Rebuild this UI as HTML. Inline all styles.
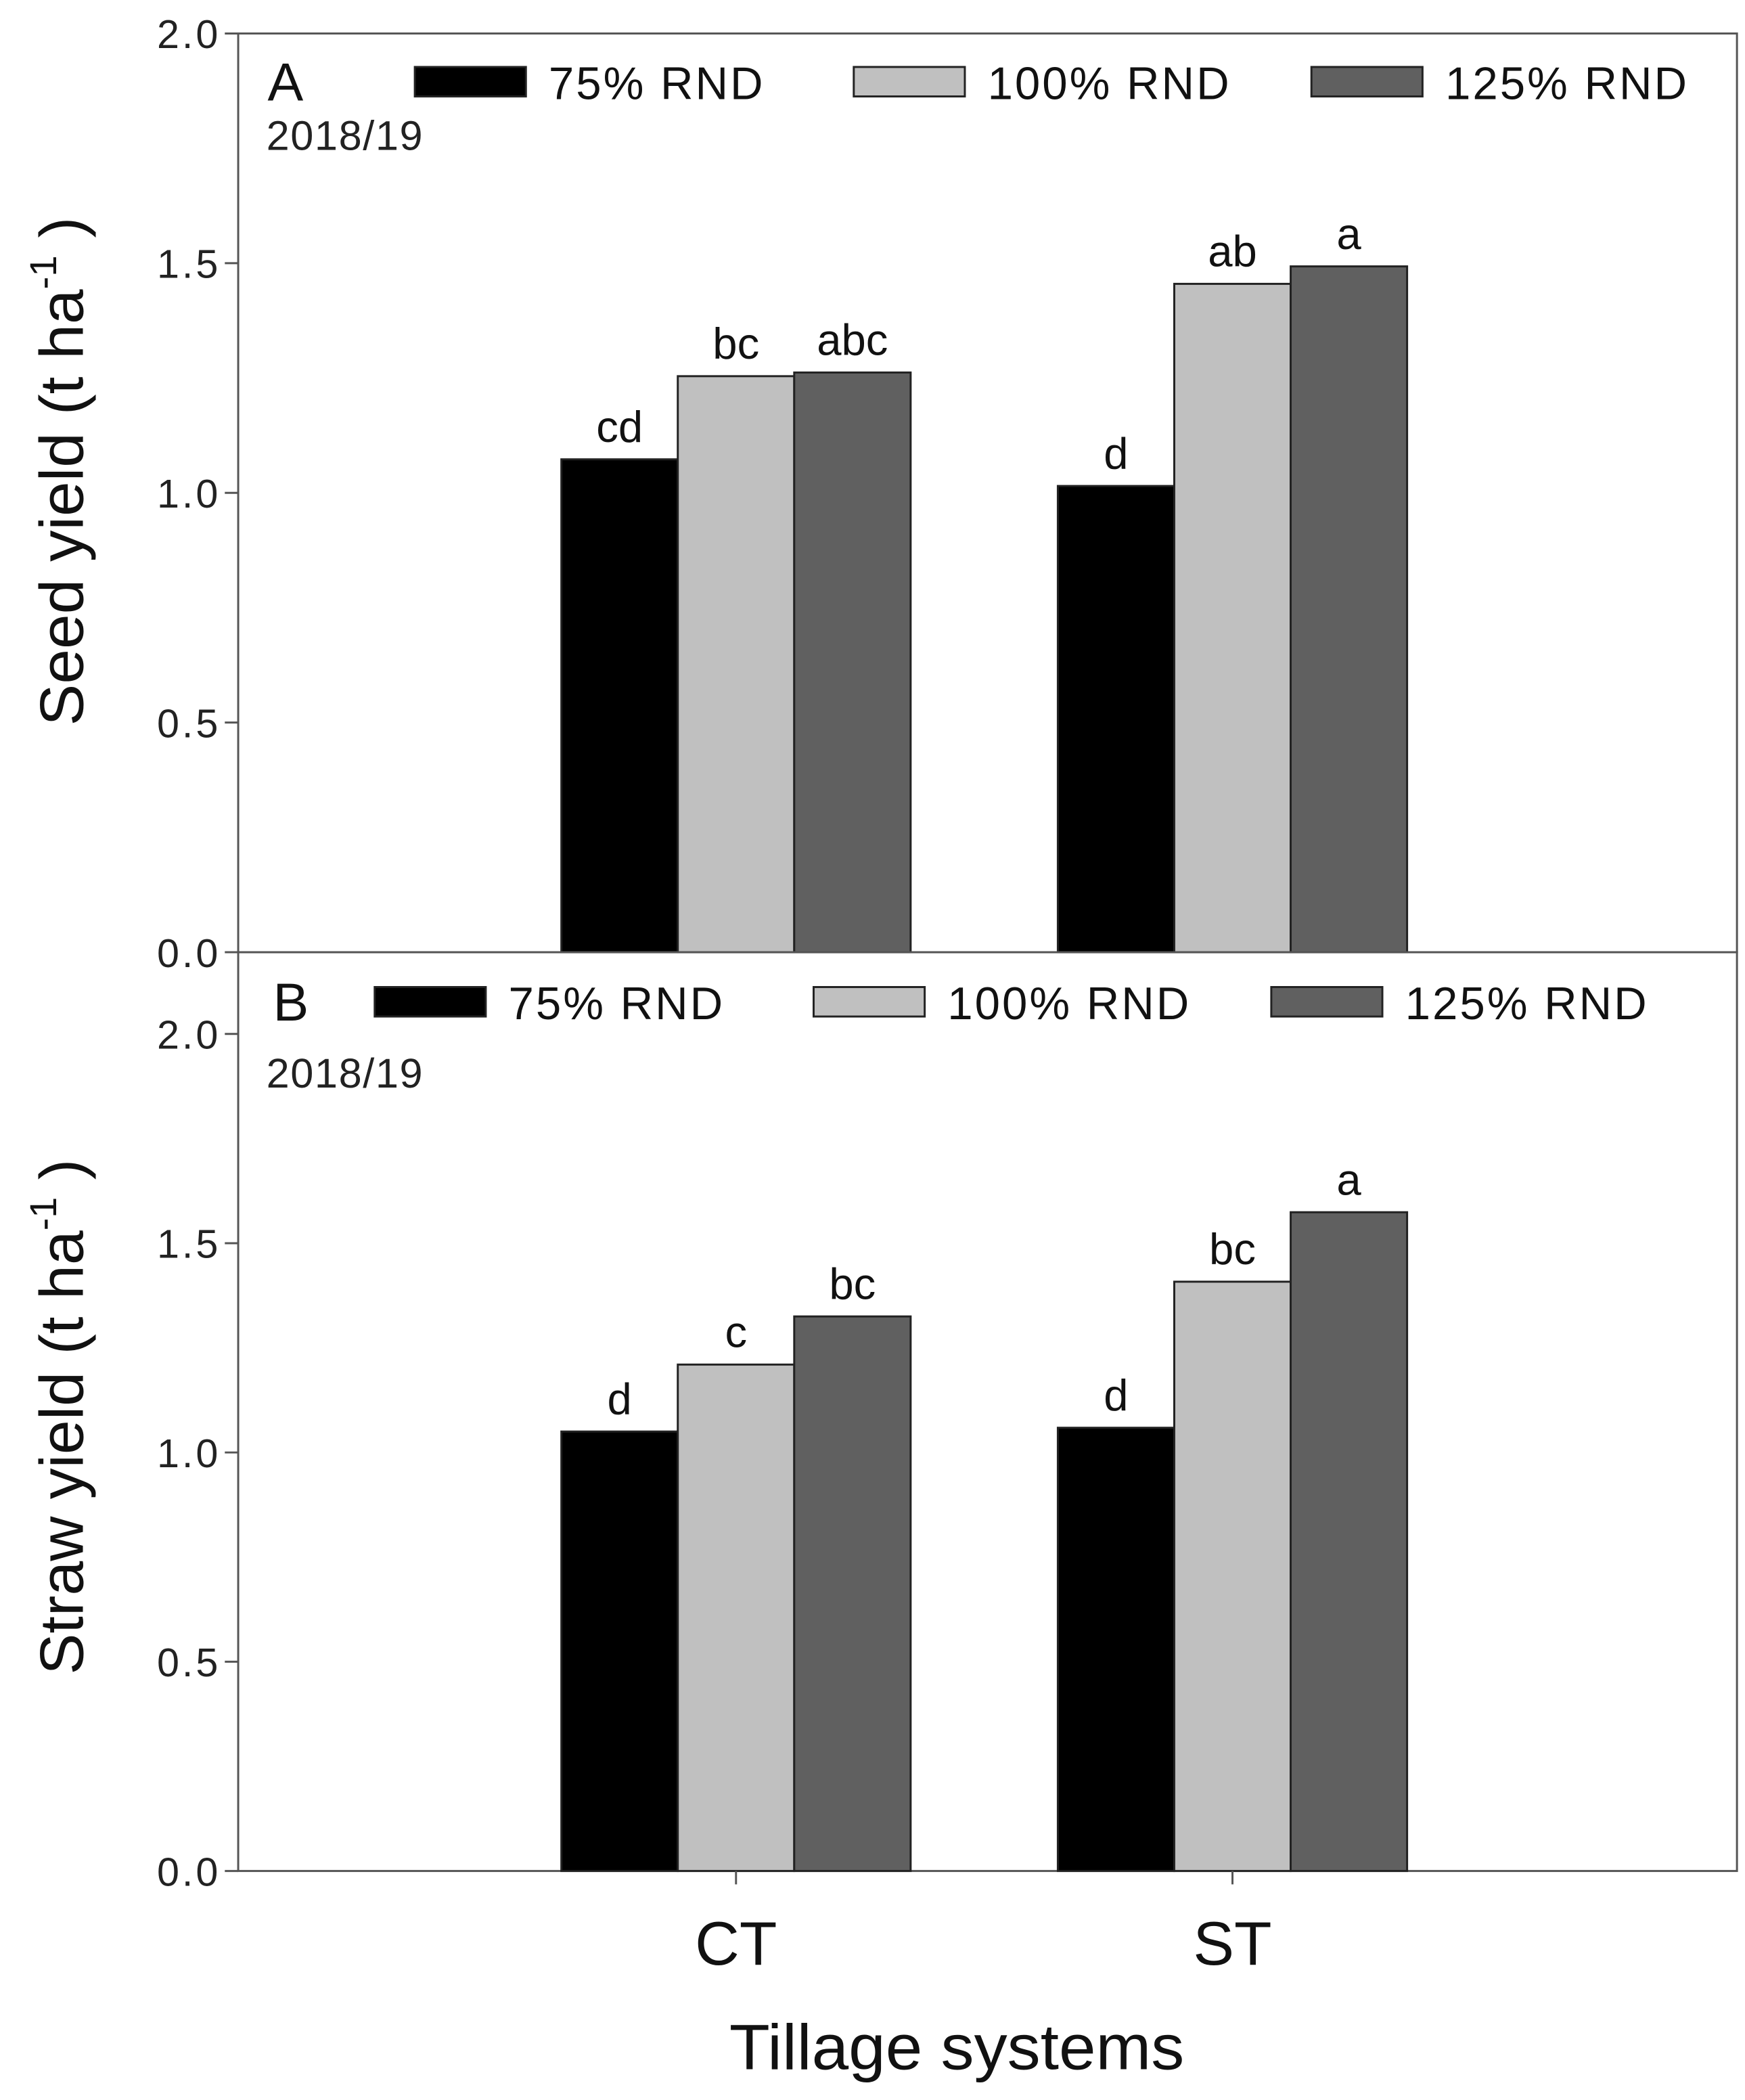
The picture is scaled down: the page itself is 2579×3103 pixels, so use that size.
<!DOCTYPE html>
<html><head><meta charset="utf-8"><style>html,body{margin:0;padding:0;background:#fff}svg{display:block}</style></head>
<body>
<svg id="chart" xmlns="http://www.w3.org/2000/svg" width="2579" height="3103" viewBox="0 0 1304 1568" preserveAspectRatio="none" font-family="'Liberation Sans', Arial, sans-serif"></svg>
<script>
const categories = ["CT", "ST"];
const seriesNames = ["75% RND", "100% RND", "125% RND"];
const seedValues = [[1.073, 1.015], [1.254, 1.455], [1.262, 1.493]];
const seedLetters = [["cd", "d"], ["bc", "ab"], ["abc", "a"]];
const strawValues = [[1.05, 1.059], [1.21, 1.408], [1.325, 1.574]];
const strawLetters = [["d", "d"], ["c", "bc"], ["bc", "a"]];
const tickLabels = ["0.0", "0.5", "1.0", "1.5", "2.0"];
const tickValues = [0, 0.5, 1.0, 1.5, 2.0];

const svg = document.getElementById('chart');
const NS = 'http://www.w3.org/2000/svg';
const colors = ['#000000', '#c0c0c0', '#606060'];
function el(tag, attrs, parent) {
  const e = document.createElementNS(NS, tag);
  for (const k in attrs) e.setAttribute(k, attrs[k]);
  (parent || svg).appendChild(e);
  return e;
}
const axL = 178, axR = 1298;
const groupCenters = [550, 921];
const barW = 87;
function xBar(ci, si) { return groupCenters[ci] - 1.5 * barW + si * barW; }

function panel(cfg) {
  const y = v => cfg.y0 - (v / 2) * (cfg.y0 - cfg.y2);
  const g = el('g', {});
  
  
  const fr = el('rect', {x: axL, y: cfg.top, width: axR - axL, height: cfg.y0 - cfg.top, fill: 'none', stroke: '#555', 'stroke-width': 1.5}, g);
  
  
  for (let si = 0; si < 3; si++) {
    for (let ci = 0; ci < 2; ci++) {
      const v = cfg.values[si][ci];
      const r = el('rect', {x: xBar(ci, si), y: y(v), width: barW, height: cfg.y0 - y(v), fill: colors[si], stroke: '#222', 'stroke-width': 1.5}, g);
      
      
      const t = el('text', {x: xBar(ci, si) + barW / 2, y: y(v) - 13, 'font-size': 33, 'text-anchor': 'middle', fill: '#111'}, g);
      t.textContent = cfg.letters[si][ci];
      
      
    }
  }
  tickValues.forEach((tv, i) => {
    el('line', {x1: axL - 10, x2: axL, y1: y(tv), y2: y(tv), stroke: '#555', 'stroke-width': 1.5}, g);
    const t = el('text', {x: axL - 13, y: y(tv) + 11, 'font-size': 30, 'text-anchor': 'end', fill: '#222', 'letter-spacing': 2}, g);
    t.textContent = tickLabels[i];
    
    
  });
  const yt = el('text', {transform: `translate(${cfg.titleX},${cfg.titleY}) rotate(-90)`, 'font-size': 46, 'text-anchor': 'middle', fill: '#111', textLength: cfg.titleLen, lengthAdjust: 'spacingAndGlyphs'}, g);
  
  
  yt.appendChild(document.createTextNode(cfg.title + ' (t ha'));
  const sup = el('tspan', {dy: -20, 'font-size': 28}, yt);
  sup.textContent = '-1';
  const cl = el('tspan', {dy: 20}, yt);
  cl.textContent = ' )';
  const pl = el('text', {x: cfg.letterX, y: cfg.legY + 14, 'font-size': 40, fill: '#111'}, g);
  pl.textContent = cfg.letter;
  
  
  const yr = el('text', {x: 199, y: cfg.yearY, 'font-size': 31, fill: '#222', 'letter-spacing': 0.8}, g);
  yr.textContent = '2018/19';
  
  
  for (let si = 0; si < 3; si++) {
    const sx = cfg.legX[si];
    const sw = el('rect', {x: sx, y: cfg.legY - 11, width: 83, height: 22, fill: colors[si], stroke: '#222', 'stroke-width': 1.5}, g);
    
    
    const lt = el('text', {x: sx + 100, y: cfg.legY + 13, 'font-size': 34, fill: '#111', 'letter-spacing': 1.5}, g);
    lt.textContent = seriesNames[si];
    
    
  }
  return y;
}

panel({name: 'panel-a', top: 25, y0: 711, y2: 25, values: seedValues, letters: seedLetters,
  title: 'Seed yield', titleX: 62, titleY: 352, titleLen: 380, letter: 'A', letterX: 200, legY: 61, yearY: 112,
  legX: [310, 638, 980]});
panel({name: 'panel-b', top: 711, y0: 1397, y2: 772, values: strawValues, letters: strawLetters,
  title: 'Straw yield', titleX: 62, titleY: 1058, titleLen: 385, letter: 'B', letterX: 204, legY: 748, yearY: 812,
  legX: [280, 608, 950]});

categories.forEach((c, ci) => {
  el('line', {x1: groupCenters[ci], x2: groupCenters[ci], y1: 1397, y2: 1407, stroke: '#555', 'stroke-width': 1.5});
  const t = el('text', {x: groupCenters[ci], y: 1467, 'font-size': 46, 'text-anchor': 'middle', fill: '#111'});
  t.textContent = c;
  
  
});
const xt = el('text', {x: 715, y: 1545, 'font-size': 48, 'text-anchor': 'middle', fill: '#111', textLength: 340, lengthAdjust: 'spacingAndGlyphs'});
xt.textContent = 'Tillage systems';


</script>
</body></html>
